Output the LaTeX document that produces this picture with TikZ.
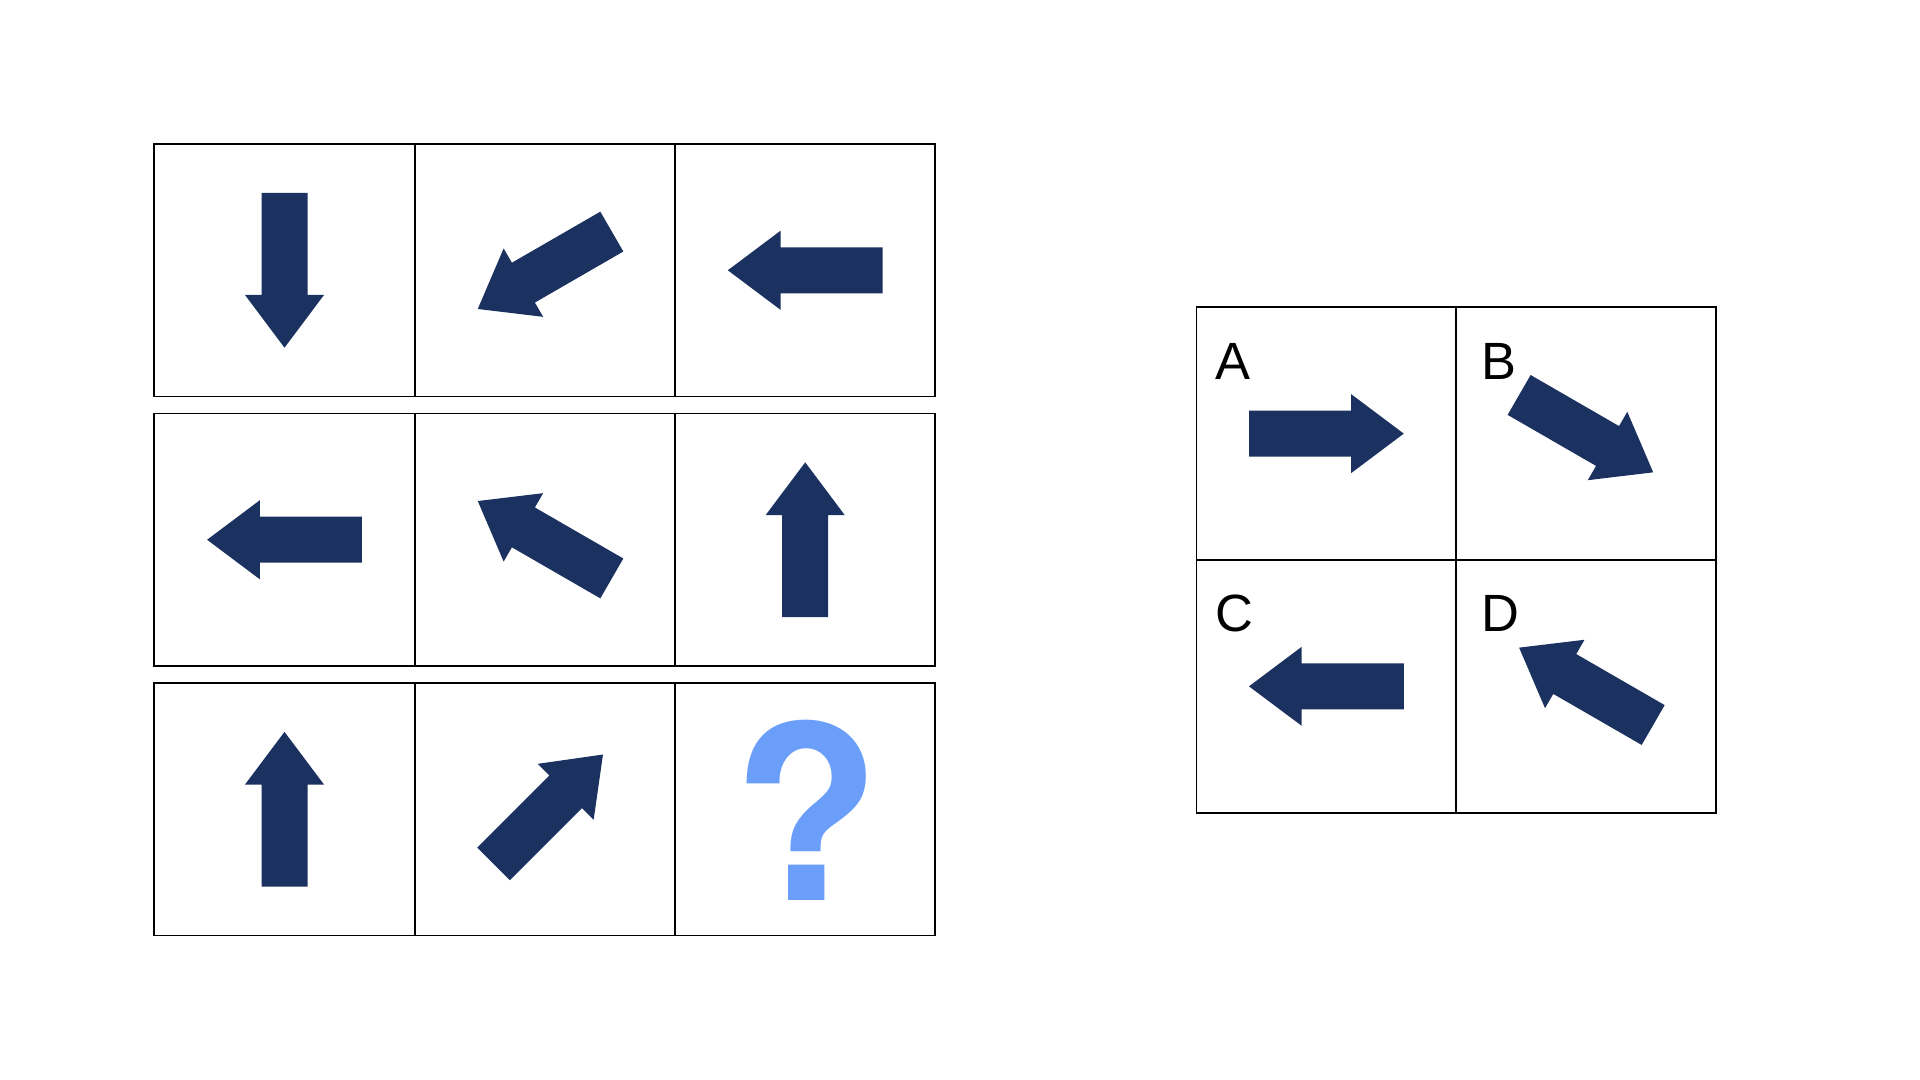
\documentclass[tikz,border=0pt]{standalone}
\usepackage{fontspec}
\setmainfont{Liberation Sans}
\newfontfamily\qfont{TeX Gyre Heros}
\definecolor{navy}{RGB}{27,49,96}
\definecolor{qblue}{RGB}{106,158,249}
\begin{document}
\begin{tikzpicture}[x=0.40625pt,y=0.40625pt,
  cellbox/.style={draw=black, line width=0.75pt, minimum width=105.76pt, minimum height=102.58pt, inner sep=0pt, outer sep=0pt},
  optbox/.style={draw=black, line width=0.75pt, minimum width=105.53pt, minimum height=102.66pt, inner sep=0pt, outer sep=0pt},
  optlabel/.style={anchor=base west, inner sep=0pt, font=\fontsize{21.3}{26}\selectfont},
  bigarrow/.pic={\fill[navy] (-77.4,-23) -- (24.7,-23) -- (24.7,-39.5) -- (77.4,0) -- (24.7,39.5) -- (24.7,23) -- (-77.4,23) -- cycle;}
]
\useasboundingbox (0,0) rectangle (1920,1080);
% puzzle grid: three row strips of three cells
\node[cellbox] (L11) at (284.5,809.7) {};
\node[cellbox] (L12) at (544.8,809.7) {};
\node[cellbox] (L13) at (805.2,809.7) {};
\node[cellbox] (L21) at (284.5,540.25) {};
\node[cellbox] (L22) at (544.8,540.25) {};
\node[cellbox] (L23) at (805.2,540.25) {};
\node[cellbox] (L31) at (284.5,270.75) {};
\node[cellbox] (L32) at (544.8,270.75) {};
\node[cellbox] (L33) at (805.2,270.75) {};
\pic[rotate=270] at (L11.center) {bigarrow};
\pic[rotate=210] at (L12.center) {bigarrow};
\pic[rotate=180] at (L13.center) {bigarrow};
\pic[rotate=180] at (L21.center) {bigarrow};
\pic[rotate=150] at (L22.center) {bigarrow};
\pic[rotate=90] at (L23.center) {bigarrow};
\pic[rotate=90] at (L31.center) {bigarrow};
\pic[rotate=45] at ([xshift=1.4pt]L32.center) {bigarrow};
\node[anchor=base, inner sep=0pt, text=qblue, font=\qfont\bfseries\fontsize{98.5}{108}\selectfont] (qm) at (806.2,179.3) {?};
% answer options grid
\node[optbox] (A) at (1326.4,646.35) {};
\node[optbox] (B) at (1586.15,646.35) {};
\node[optbox] (C) at (1326.4,393.65) {};
\node[optbox] (D) at (1586.15,393.65) {};
\pic[rotate=0] at (A.center) {bigarrow};
\pic[rotate=-30] at (B.center) {bigarrow};
\pic[rotate=180] at (C.center) {bigarrow};
\pic[rotate=150] at (D.center) {bigarrow};
\node[optlabel] (la) at (1215,700.7) {A};
\node[optlabel] (lb) at (1481,700.7) {B};
\node[optlabel] (lc) at (1214.7,448.3) {C};
\node[optlabel] (ld) at (1481,448.3) {D};
\end{tikzpicture}
\end{document}
